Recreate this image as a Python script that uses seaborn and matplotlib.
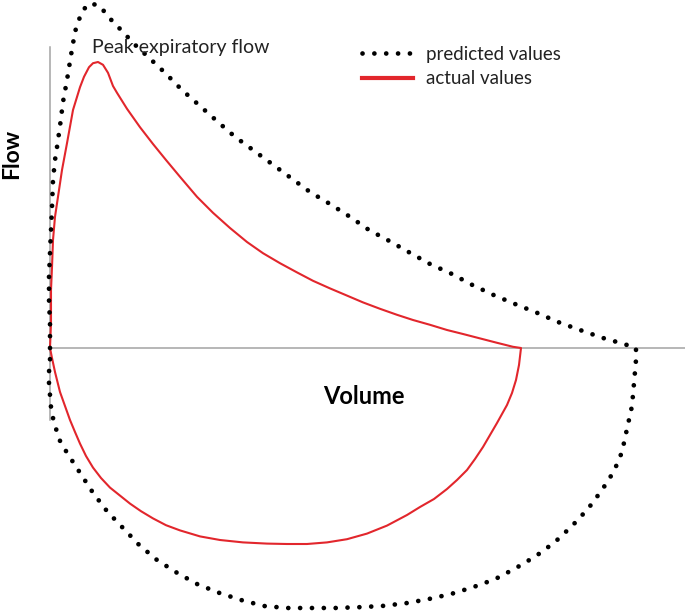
import matplotlib
matplotlib.use("Agg")
import matplotlib.pyplot as plt
from matplotlib.lines import Line2D
import seaborn as sns
import pandas as pd

# Predicted flow-volume loop (volume L, flow L/s): expiration then inspiration
pred_exp_volume = [0, 0, -0.01, -0.01, 0, 0.01, 0.02, 0.03, 0.05, 0.07, 0.10, 0.13, 0.17, 0.21, 0.25,
                   0.28, 0.33, 0.40, 0.50, 0.57, 0.65, 0.74, 0.82, 0.98, 1.15, 1.32, 1.50, 1.68, 1.85,
                   2.03, 2.22, 2.41, 2.60, 2.80, 3.00, 3.19, 3.39, 3.60, 3.80, 4.02, 4.22, 4.44, 4.65,
                   4.87, 5.08, 5.30, 5.53, 5.74, 5.86]
pred_exp_flow = [0, 0.62, 1.2, 1.78, 2.38, 2.95, 3.52, 4.2, 4.7, 5.02, 5.55, 6.15, 6.7, 7.32, 7.9,
                 8.15, 8.45, 8.62, 8.55, 8.32, 8.1, 7.88, 7.65, 7.28, 6.88, 6.45, 6.05, 5.65, 5.28,
                 4.95, 4.6, 4.25, 3.9, 3.6, 3.28, 2.95, 2.68, 2.38, 2.1, 1.85, 1.58, 1.32, 1.1,
                 0.88, 0.65, 0.45, 0.25, 0.1, 0]
pred_insp_volume = [5.86, 5.84, 5.82, 5.77, 5.72, 5.64, 5.52, 5.38, 5.22, 5.05, 4.86, 4.66, 4.45,
                    4.23, 4.01, 3.78, 3.56, 3.32, 3.09, 2.85, 2.61, 2.37, 2.14, 1.91, 1.69, 1.47,
                    1.27, 1.07, 0.89, 0.73, 0.57, 0.43, 0.30, 0.17, 0.10, 0.06, 0.03, 0.01, 0,
                    -0.01, -0.01, 0, 0]
pred_insp_flow = [-0.3, -0.88, -1.45, -2.02, -2.6, -3.08, -3.55, -4.02, -4.45, -4.85, -5.2, -5.5,
                  -5.78, -5.98, -6.15, -6.28, -6.38, -6.45, -6.48, -6.5, -6.5, -6.5, -6.45, -6.3,
                  -6.12, -5.9, -5.62, -5.3, -4.92, -4.5, -4.08, -3.62, -3.12, -2.62, -2.32, -2.02,
                  -1.75, -1.48, -1.18, -0.88, -0.6, -0.3, 0]

# Actual (measured) loop
act_exp_volume = [0, 0.01, 0.01, 0.02, 0.03, 0.05, 0.08, 0.12, 0.17, 0.23, 0.30, 0.34, 0.39,
                  0.43, 0.48, 0.53, 0.58, 0.63, 0.67, 0.77, 0.90, 1.03, 1.16, 1.30, 1.47, 1.63,
                  1.80, 1.97, 2.13, 2.30, 2.47, 2.63, 2.80, 2.97, 3.13, 3.30, 3.47, 3.63, 3.80,
                  3.97, 4.13, 4.30, 4.47, 4.63, 4.71]
act_exp_flow = [0, 0.62, 1.45, 2.02, 2.7, 3.28, 3.78, 4.45, 5.12, 5.95, 6.52, 6.78, 7.02,
                7.12, 7.15, 7.08, 6.88, 6.55, 6.38, 5.98, 5.52, 5.1, 4.7, 4.28, 3.78, 3.38,
                3.0, 2.65, 2.37, 2.12, 1.89, 1.68, 1.49, 1.31, 1.14, 0.98, 0.83, 0.7, 0.58,
                0.45, 0.35, 0.24, 0.13, 0.03, 0]
act_insp_volume = [4.69, 4.66, 4.62, 4.57, 4.52, 4.47, 4.40, 4.33, 4.25, 4.17, 4.07, 3.97, 3.84,
                   3.70, 3.57, 3.37, 3.17, 2.97, 2.77, 2.57, 2.37, 2.17, 1.93, 1.70, 1.50, 1.30,
                   1.16, 1.03, 0.91, 0.80, 0.70, 0.60, 0.51, 0.43, 0.36, 0.30, 0.25, 0.20, 0.14,
                   0.10, 0.05, 0.02, 0]
act_insp_flow = [-0.425, -0.8, -1.125, -1.425, -1.65, -1.875, -2.175, -2.475, -2.775, -3.05,
                 -3.3, -3.525, -3.775, -3.975, -4.175, -4.44, -4.64, -4.78, -4.86, -4.9, -4.9,
                 -4.89, -4.86, -4.8, -4.71, -4.56, -4.43, -4.26, -4.08, -3.89, -3.69, -3.49,
                 -3.25, -2.99, -2.7, -2.39, -2.1, -1.8, -1.38, -1.1, -0.6, -0.25, 0]

series_labels = ["predicted values", "actual values"]
annotation = "Peak expiratory flow"
x_label = "Volume"
y_label = "Flow"

RED = "#e2262c"
GRAY = "#a3a3a3"

fig = plt.figure(figsize=(6.85, 6.11), dpi=100)
ax = fig.add_axes([0, 0, 1, 1])
ax.set_xlim(-0.5, 6.35)
ax.set_ylim(-6.575, 8.7)
ax.axis("off")

plt.rcParams["font.family"] = ["Lato", "DejaVu Sans"]

# axes lines
ax.plot([0, 0], [-1.8, 7.52], color=GRAY, lw=1.1, zorder=1)
ax.plot([0, 6.35], [0, 0], color=GRAY, lw=1.1, zorder=1)

pred = pd.DataFrame({"volume": pred_exp_volume + pred_insp_volume,
                     "flow": pred_exp_flow + pred_insp_flow})
act = pd.DataFrame({"volume": act_exp_volume + act_insp_volume,
                    "flow": act_exp_flow + act_insp_flow})

dot_style = (0, (0.01, 2.5))
sns.lineplot(data=pred, x="volume", y="flow", sort=False, estimator=None, ax=ax,
             color="black", lw=3.4, linestyle=dot_style, dash_capstyle="round", zorder=3)
sns.lineplot(data=act, x="volume", y="flow", sort=False, estimator=None, ax=ax,
             color=RED, lw=1.5, solid_joinstyle="round", zorder=2)

ax.text(0.42, 7.5, annotation, fontsize=14, va="center", ha="left", color="#222222")
ax.text(-0.38, 4.85, y_label, fontsize=16.5, fontweight="bold", rotation=90,
        va="center", ha="center", color="black")
ax.text(3.14, -1.22, x_label, fontsize=17, fontweight="bold",
        va="center", ha="center", color="black")

handles = [Line2D([], [], color="black", lw=3.4, linestyle=dot_style, dash_capstyle="round"),
           Line2D([], [], color=RED, lw=3.0)]
leg = ax.legend(handles, series_labels, loc="upper left",
                bbox_to_anchor=(362 / 685, 1 - 46 / 611), bbox_transform=fig.transFigure,
                frameon=False, fontsize=13.5, handlelength=2.72, handletextpad=0.7,
                borderpad=0, borderaxespad=0, labelspacing=0.4)
for t in leg.get_texts():
    t.set_color("#222222")

fig.savefig("out.png", dpi=100)
